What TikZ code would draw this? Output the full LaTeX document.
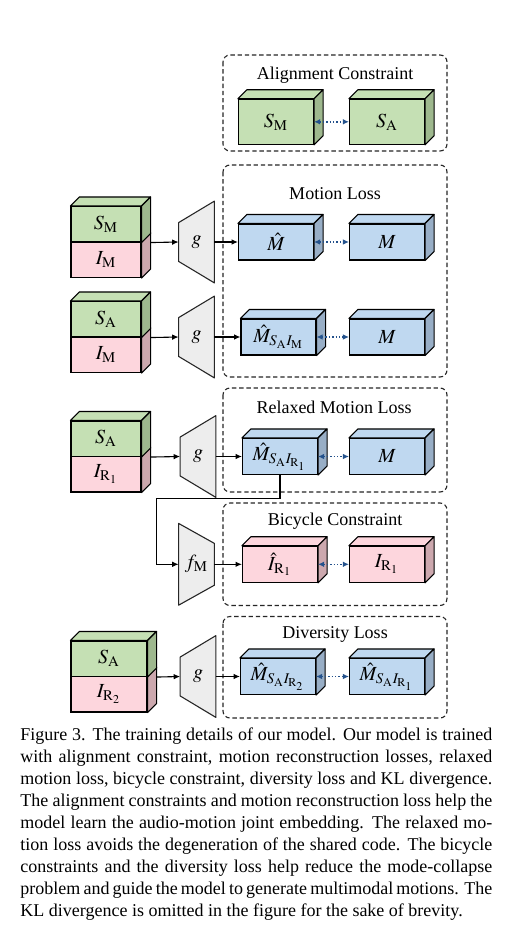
\documentclass[tikz,border=0pt]{standalone}
\usepackage{mathptmx}
\usepackage{fontspec}
\setmainfont{Liberation Serif}
\usepackage{tikz}
\usetikzlibrary{arrows.meta,backgrounds}

\definecolor{greenface}{RGB}{197,224,180}
\definecolor{greenside}{RGB}{158,184,142}
\definecolor{pinkface}{RGB}{253,214,221}
\definecolor{pinkside}{RGB}{204,168,174}
\definecolor{blueface}{RGB}{191,216,240}
\definecolor{blueside}{RGB}{152,174,198}
\definecolor{codergray}{RGB}{237,237,237}
\definecolor{linkblue}{RGB}{36,82,140}

\newcommand{\topface}[2]{%
  \draw[facestyle, fill=#2] (#1.north west) -- ++(9,-9) -- ([shift={(9,-9)}]#1.north east) -- (#1.north east) -- cycle;}
\newcommand{\sideface}[2]{%
  \draw[facestyle, fill=#2] (#1.north east) -- ++(9,-9) -- ([shift={(9,-9)}]#1.south east) -- (#1.south east) -- cycle;}
\newcommand{\encshape}[1]{%
  \draw[coderline] (#1.north east) -- (#1.south east) -- ([yshift=10.75pt]#1.south west) -- ([yshift=-10.75pt]#1.north west) -- cycle;}
\newcommand{\decshape}[1]{%
  \draw[coderline] (#1.north west) -- (#1.south west) -- ([yshift=10pt]#1.south east) -- ([yshift=-10pt]#1.north east) -- cycle;}

\begin{document}
\begin{tikzpicture}[x=0.5pt, y=-0.5pt, font=\fontsize{9}{11}\selectfont,
    facestyle/.style={draw=black, line width=0.55pt, line join=round},
    layer/.style={draw=black, line width=0.55pt, minimum width=35pt, minimum height=17.75pt, inner sep=0pt, font=\fontsize{10}{12}\selectfont},
    cube/.style={draw=black, line width=0.55pt, minimum width=37.5pt, minimum height=18pt, inner sep=0pt, font=\fontsize{10}{12}\selectfont},
    coder/.style={minimum width=17.5pt, minimum height=40.5pt, inner sep=0pt, font=\fontsize{10}{12}\selectfont},
    coderline/.style={draw=black!85, fill=codergray, line width=0.55pt, line join=round},
    flow/.style={-{Latex[length=3.2pt,width=2.8pt]}, line width=0.55pt},
    pair/.style={{Latex[length=3pt,width=2.8pt]}-{Latex[length=3pt,width=2.8pt]}, linkblue, densely dotted, line width=0.7pt},
    frame/.style={draw=black!85, line width=0.55pt, rounded corners=3.5pt, dash pattern=on 2.2pt off 1.4pt},
    title/.style={inner sep=0pt}]
  \useasboundingbox (0,0) rectangle (509,932);

  % loss frames
  \draw[frame] (223,55) rectangle (447,151);
  \draw[frame] (223,165) rectangle (447,377);
  \draw[frame] (223,388) rectangle (447,492);
  \draw[frame] (223,503) rectangle (447,605.5);
  \draw[frame] (223,616.5) rectangle (447,718);
  \node[title] (talign) at (335,75) {Alignment Constraint};
  \node[title] (tmotion) at (335,194) {Motion Loss};
  \node[title] (trelax) at (334,407) {Relaxed Motion Loss};
  \node[title] (tcycle) at (335,521) {Bicycle Constraint};
  \node[title] (tdiv) at (335,634) {Diversity Loss};

  % input stacks
  \node[layer, fill=pinkface] (im1) at (106,259.75) {$I_{\mathrm{M}}$};
  \sideface{im1}{pinkside}
  \node[layer, fill=greenface] (sm1) at (106,224.25) {$S_{\mathrm{M}}$};
  \topface{sm1}{greenface} \sideface{sm1}{greenside}

  \node[layer, fill=pinkface] (im2) at (106,354.75) {$I_{\mathrm{M}}$};
  \sideface{im2}{pinkside}
  \node[layer, fill=greenface] (sa2) at (106,319.25) {$S_{\mathrm{A}}$};
  \topface{sa2}{greenface} \sideface{sa2}{greenside}

  \node[layer, fill=pinkface] (ir3) at (106,474.25) {$I_{\mathrm{R}_1}$};
  \sideface{ir3}{pinkside}
  \node[layer, fill=greenface] (sa3) at (106,438.75) {$S_{\mathrm{A}}$};
  \topface{sa3}{greenface} \sideface{sa3}{greenside}

  \node[layer, fill=pinkface, minimum width=38pt] (ir4) at (109,694.25) {$I_{\mathrm{R}_2}$};
  \sideface{ir4}{pinkside}
  \node[layer, fill=greenface, minimum width=38pt] (sa4) at (109,658.75) {$S_{\mathrm{A}}$};
  \topface{sa4}{greenface} \sideface{sa4}{greenside}

  % encoders and decoder
  \node[coder] (g1) at (196.5,242) {$g$};
  \node[coder] (g2) at (196.5,337) {$g$};
  \node[coder] (g3) at (198,456.5) {$g$};
  \node[coder] (fM) at (196.5,564.3) {$f_{\mathrm{M}}$};
  \node[coder] (g4) at (198,676.5) {$g$};
  \begin{pgfonlayer}{background}
    \fill[white] (0,0) rectangle (509,932);
    \encshape{g1} \encshape{g2} \encshape{g3} \encshape{g4}
    \decshape{fM}
  \end{pgfonlayer}

  % output boxes
  \node[cube, fill=greenface, minimum height=22.5pt] (sma) at (276,121.8) {$S_{\mathrm{M}}$};
  \topface{sma}{greenface} \sideface{sma}{greenside}
  \node[cube, fill=greenface, minimum height=22.5pt] (saa) at (387,121.8) {$S_{\mathrm{A}}$};
  \topface{saa}{greenface} \sideface{saa}{greenside}

  \node[cube, fill=blueface] (mh1) at (276,242) {$\hat{M}$};
  \topface{mh1}{blueface} \sideface{mh1}{blueside}
  \node[cube, fill=blueface] (m1) at (387,242) {$M$};
  \topface{m1}{blueface} \sideface{m1}{blueside}

  \node[cube, fill=blueface] (mh2) at (278.5,337) {$\hat{M}_{S_{\mathrm{A}}I_{\mathrm{M}}}$};
  \topface{mh2}{blueface} \sideface{mh2}{blueside}
  \node[cube, fill=blueface] (m2) at (387,337) {$M$};
  \topface{m2}{blueface} \sideface{m2}{blueside}

  \node[cube, fill=blueface] (mh3) at (280,456.5) {$\hat{M}_{S_{\mathrm{A}}I_{\mathrm{R}_1}}$};
  \topface{mh3}{blueface} \sideface{mh3}{blueside}
  \node[cube, fill=blueface] (m3) at (387,456.5) {$M$};
  \topface{m3}{blueface} \sideface{m3}{blueside}

  \node[cube, fill=pinkface] (ih) at (280,564.3) {$\hat{I}_{\mathrm{R}_1}$};
  \topface{ih}{pinkface} \sideface{ih}{pinkside}
  \node[cube, fill=pinkface] (ir) at (387,564.3) {$I_{\mathrm{R}_1}$};
  \topface{ir}{pinkface} \sideface{ir}{pinkside}

  \node[cube, fill=blueface] (mh4) at (278,676.5) {$\hat{M}_{S_{\mathrm{A}}I_{\mathrm{R}_2}}$};
  \topface{mh4}{blueface} \sideface{mh4}{blueside}
  \node[cube, fill=blueface] (mh5) at (387,676.5) {$\hat{M}_{S_{\mathrm{A}}I_{\mathrm{R}_1}}$};
  \topface{mh5}{blueface} \sideface{mh5}{blueside}

  % connectors
  \draw[flow] ([xshift=4.5pt]sm1.south east) -- (g1.west);
  \draw[flow] ([xshift=4.5pt]sa2.south east) -- (g2.west);
  \draw[flow] ([xshift=4.5pt]sa3.south east) -- (g3.west);
  \draw[flow] ([xshift=4.5pt]sa4.south east) -- (g4.west);
  \draw[flow] (g1.east) -- (mh1.west);
  \draw[flow] (g2.east) -- (mh2.west);
  \draw[flow] (g3.east) -- (mh3.west);
  \draw[flow] (fM.east) -- (ih.west);
  \draw[flow] (g4.east) -- (mh4.west);
  \coordinate (turn) at (156.5,498.5);
  \draw[flow] (mh3.south) |- (turn) |- (fM.west);

  \draw[pair] (sma.east) -- (saa.west);
  \draw[pair] (mh1.east) -- (m1.west);
  \draw[pair] (mh2.east) -- (m2.west);
  \draw[pair] (mh3.east) -- (m3.west);
  \draw[pair] (ih.east) -- (ir.west);
  \draw[pair] (mh4.east) -- (mh5.west);

  % caption
  \node[anchor=north west, text width=236pt, align=justify, inner sep=0pt] (caption) at (20,727.5)
    {Figure 3. The training details of our model. Our model is trained with alignment constraint, motion reconstruction losses, relaxed motion loss, bicycle constraint, diversity loss and KL divergence. The alignment constraints and motion reconstruction loss help the model learn the audio-motion joint embedding. The relaxed motion loss avoids the degeneration of the shared code. The bicycle constraints and the diversity loss help reduce the mode-collapse problem and guide the model to generate multimodal motions. The KL divergence is omitted in the figure for the sake of brevity.};
\end{tikzpicture}
\end{document}
